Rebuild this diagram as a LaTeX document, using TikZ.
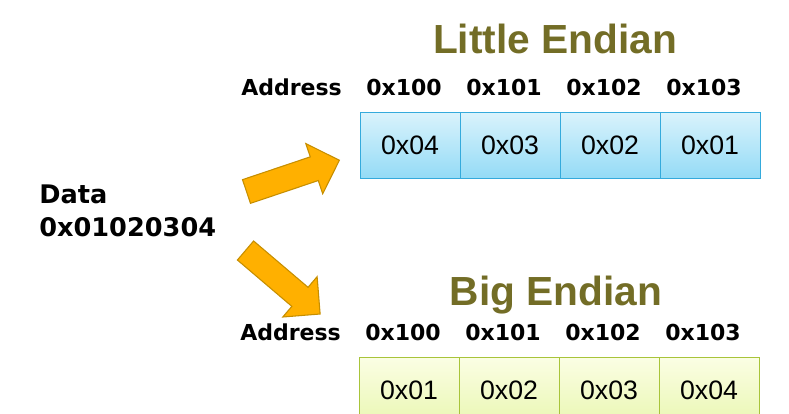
\documentclass[tikz,border=0pt]{standalone}
\usepackage{fontspec}
\usetikzlibrary{positioning,shadows}

\newfontfamily\verdanafont{DejaVu Sans}
\newfontfamily\arialfont{Liberation Sans}

\definecolor{titleolive}{RGB}{115,109,38}
\definecolor{arroworange}{RGB}{255,176,0}
\definecolor{arrowedge}{RGB}{198,142,0}
\definecolor{littletop}{RGB}{218,243,252}
\definecolor{littlebottom}{RGB}{148,219,246}
\definecolor{littleedge}{RGB}{52,170,220}
\definecolor{bigtop}{RGB}{251,254,228}
\definecolor{bigbottom}{RGB}{234,247,180}
\definecolor{bigedge}{RGB}{168,196,58}

\tikzset{
    endiantitle/.style={text=titleolive, inner sep=0pt, anchor=base,
        font=\arialfont\bfseries\fontsize{30.5}{36}\selectfont},
    addr/.style={inner sep=0pt, anchor=base,
        font=\verdanafont\bfseries\fontsize{16.5}{20}\selectfont},
    datatext/.style={inner sep=0pt, anchor=base west,
        font=\verdanafont\bfseries\fontsize{19.2}{23}\selectfont},
    bytecell/.style={draw, line width=0.6pt, inner sep=0pt, outer sep=0pt,
        minimum width=75pt, minimum height=49.5pt,
        font=\arialfont\fontsize{20}{24}\selectfont,
        drop shadow={opacity=0.2, shadow xshift=0.8pt, shadow yshift=-1pt}},
    littlecell/.style={bytecell, draw=littleedge, top color=littletop, bottom color=littlebottom},
    bigcell/.style={bytecell, draw=bigedge, top color=bigtop, bottom color=bigbottom},
    fatarrow/.style={fill=arroworange, draw=arrowedge, line width=0.8pt, line join=miter}
}

\begin{document}
\begin{tikzpicture}[x=0.75pt, y=-0.75pt]

    \path[use as bounding box] (0,0) rectangle (789,414);
    \clip (0,0) rectangle (789,414);

    % Data word on the left
    \node[datatext] (data) at (39,203) {Data};
    \node[datatext] (datavalue) at (39,236) {0x01020304};

    % Orange block arrows towards both layouts
    \begin{scope}[shift={(246.5,191.5)}, rotate=18.6]
        \draw[fatarrow] (0,-12.5) -- (71.5,-12.5) -- (71.5,-26.5) -- (98,0) -- (71.5,26.5) -- (71.5,12.5) -- (0,12.5) -- cycle;
    \end{scope}
    \begin{scope}[shift={(245.5,250.5)}, rotate=-40.4]
        \draw[fatarrow] (0,-12.5) -- (71.5,-12.5) -- (71.5,-26.5) -- (98,0) -- (71.5,26.5) -- (71.5,12.5) -- (0,12.5) -- cycle;
    \end{scope}

    % Little endian layout
    \node[endiantitle] (littletitle) at (555,53) {Little Endian};
    \node[addr, anchor=base east] (littleaddr) at (342,95) {Address};
    \node[addr] (littleaddr0) at (404,95) {0x100};
    \node[addr] (littleaddr1) at (504,95) {0x101};
    \node[addr] (littleaddr2) at (604,95) {0x102};
    \node[addr] (littleaddr3) at (704,95) {0x103};

    \node[littlecell, anchor=north west] (little0) at (360,112) {0x04};
    \node[littlecell, right=0pt of little0] (little1) {0x03};
    \node[littlecell, right=0pt of little1] (little2) {0x02};
    \node[littlecell, right=0pt of little2] (little3) {0x01};

    % Big endian layout
    \node[endiantitle] (bigtitle) at (556,305) {Big Endian};
    \node[addr, anchor=base east] (bigaddr) at (341,340) {Address};
    \node[addr] (bigaddr0) at (403,340) {0x100};
    \node[addr] (bigaddr1) at (503,340) {0x101};
    \node[addr] (bigaddr2) at (603,340) {0x102};
    \node[addr] (bigaddr3) at (703,340) {0x103};

    \node[bigcell, anchor=north west] (big0) at (359,357) {0x01};
    \node[bigcell, right=0pt of big0] (big1) {0x02};
    \node[bigcell, right=0pt of big1] (big2) {0x03};
    \node[bigcell, right=0pt of big2] (big3) {0x04};

\end{tikzpicture}
\end{document}
